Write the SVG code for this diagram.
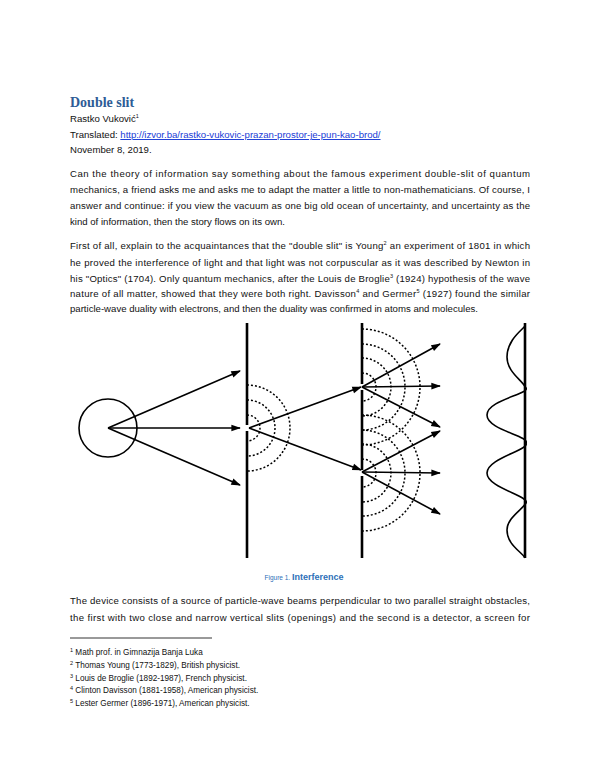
<svg xmlns="http://www.w3.org/2000/svg" width="600" height="776" viewBox="0 0 600 776">
<style>
.b{font-family:"Liberation Sans",Carlito,sans-serif;font-size:9.6px;fill:#111}
.f{font-family:"Liberation Sans",sans-serif;font-size:8.2px;fill:#111}
.s{font-size:5.5px}
.ln{stroke:#000;stroke-width:1.6;fill:none}
.wall{stroke:#000;stroke-width:2.6}
.dot{stroke:#000;stroke-width:1.5;fill:none;stroke-dasharray:2 2}
</style>
<defs><marker id="ah" viewBox="0 0 10 10" refX="9" refY="5" markerWidth="6.5" markerHeight="6" orient="auto" markerUnits="strokeWidth"><path d="M0,1.5 L10,5 L0,8.5 z" fill="#000"/></marker></defs>
<rect width="600" height="776" fill="#fff"/>
<text x="70" y="107" font-family="Liberation Serif,serif" font-weight="bold" font-size="14" fill="#2e5c96">Double slit</text>
<text class="b" x="70" y="122">Rastko Vuković<tspan class="s" dy="-4">1</tspan></text>
<text class="b" x="70" y="138">Translated: <tspan fill="#1a3cd6" text-decoration="underline">http://izvor.ba/rastko-vukovic-prazan-prostor-je-pun-kao-brod/</tspan></text>
<text class="b" x="70" y="153">November 8, 2019.</text>
<text class="b" x="70" y="177" textLength="460" lengthAdjust="spacing">Can the theory of information say something about the famous experiment double-slit of quantum</text>
<text class="b" x="70" y="193" textLength="460" lengthAdjust="spacing">mechanics, a friend asks me and asks me to adapt the matter a little to non-mathematicians. Of course, I</text>
<text class="b" x="70" y="209" textLength="460" lengthAdjust="spacing">answer and continue: if you view the vacuum as one big old ocean of uncertainty, and uncertainty as the</text>
<text class="b" x="70" y="225">kind of information, then the story flows on its own.</text>
<text class="b" x="70" y="249" textLength="460" lengthAdjust="spacing">First of all, explain to the acquaintances that the "double slit" is Young<tspan class="s" dy="-4">2</tspan><tspan dy="4"> an experiment of 1801 in which</tspan></text>
<text class="b" x="70" y="266" textLength="460" lengthAdjust="spacing">he proved the interference of light and that light was not corpuscular as it was described by Newton in</text>
<text class="b" x="70" y="282" textLength="460" lengthAdjust="spacing">his "Optics" (1704). Only quantum mechanics, after the Louis de Broglie<tspan class="s" dy="-4">3</tspan><tspan dy="4"> (1924) hypothesis of the wave</tspan></text>
<text class="b" x="70" y="297" textLength="460" lengthAdjust="spacing">nature of all matter, showed that they were both right. Davisson<tspan class="s" dy="-4">4</tspan><tspan dy="4"> and Germer</tspan><tspan class="s" dy="-4">5</tspan><tspan dy="4"> (1927) found the similar</tspan></text>
<text class="b" x="70" y="312">particle-wave duality with electrons, and then the duality was confirmed in atoms and molecules.</text>

<g id="figure">
<g id="source"><circle cx="108" cy="428" r="29" class="ln"/></g>
<g id="barrier1"><line x1="247" y1="323" x2="247" y2="425" class="wall"/><line x1="247" y1="431" x2="247" y2="558" class="wall"/>
<path class="dot" d="M247,415 A13,13 0 0 1 247,441 M247,400 A28,28 0 0 1 247,456 M247,385 A43,43 0 0 1 247,471"/></g>
<g id="barrier2"><line x1="362" y1="323" x2="362" y2="384" class="wall"/><line x1="362" y1="390" x2="362" y2="470" class="wall"/><line x1="362" y1="476" x2="362" y2="558" class="wall"/>
<path class="dot" d="M362,373 A14,14 0 0 1 362,401 M362,358 A29,29 0 0 1 362,416 M362,344 A43,43 0 0 1 362,430 M362,329 A58,58 0 0 1 362,445"/>
<path class="dot" d="M362,459 A14,14 0 0 1 362,487 M362,444 A29,29 0 0 1 362,502 M362,430 A43,43 0 0 1 362,516 M362,415 A58,58 0 0 1 362,531"/></g>
<g id="screen"><line x1="525" y1="323" x2="525" y2="558" class="wall"/>
<path class="ln" d="M525,326 C522,330 507,340 507,357 C507,372 522,380 526,388 C530,394 487,400 487,415 C487,430 530,436 526,443 C530,450 487,458 487,473 C487,488 530,496 526,503 C522,510 507,518 507,530 C507,545 522,552 525,558"/></g>
<g id="connectors">
<line class="ln" x1="108" y1="428" x2="240" y2="371" marker-end="url(#ah)"/>
<line class="ln" x1="108" y1="428" x2="240" y2="428" marker-end="url(#ah)"/>
<line class="ln" x1="108" y1="428" x2="240" y2="485" marker-end="url(#ah)"/>
<line class="ln" x1="249" y1="428" x2="361" y2="387" marker-end="url(#ah)"/>
<line class="ln" x1="249" y1="428" x2="361" y2="470" marker-end="url(#ah)"/>
<line class="ln" x1="362" y1="387" x2="440" y2="344" marker-end="url(#ah)"/>
<line class="ln" x1="362" y1="387" x2="440" y2="386" marker-end="url(#ah)"/>
<line class="ln" x1="362" y1="387" x2="440" y2="427" marker-end="url(#ah)"/>
<line class="ln" x1="362" y1="472" x2="440" y2="431" marker-end="url(#ah)"/>
<line class="ln" x1="362" y1="472" x2="440" y2="473" marker-end="url(#ah)"/>
<line class="ln" x1="362" y1="472" x2="440" y2="514" marker-end="url(#ah)"/>
</g>
</g>
<text x="304" y="580" text-anchor="middle" font-family="Liberation Sans,sans-serif" fill="#2e6fb8"><tspan font-size="6.5">Figure 1. </tspan><tspan font-size="9" font-weight="bold">Interference</tspan></text>

<text class="b" x="70" y="604" textLength="460" lengthAdjust="spacing">The device consists of a source of particle-wave beams perpendicular to two parallel straight obstacles,</text>
<text class="b" x="70" y="621" textLength="460" lengthAdjust="spacing">the first with two close and narrow vertical slits (openings) and the second is a detector, a screen for</text>
<line x1="70" y1="638" x2="212" y2="638" stroke="#000" stroke-width="0.8"/>
<text class="f" x="70" y="655"><tspan class="s" dy="-3">1</tspan><tspan dy="3"> Math prof. in Gimnazija Banja Luka</tspan></text>
<text class="f" x="70" y="668"><tspan class="s" dy="-3">2</tspan><tspan dy="3"> Thomas Young (1773-1829), British physicist.</tspan></text>
<text class="f" x="70" y="681"><tspan class="s" dy="-3">3</tspan><tspan dy="3"> Louis de Broglie (1892-1987), French physicist.</tspan></text>
<text class="f" x="70" y="693"><tspan class="s" dy="-3">4</tspan><tspan dy="3"> Clinton Davisson (1881-1958), American physicist.</tspan></text>
<text class="f" x="70" y="706"><tspan class="s" dy="-3">5</tspan><tspan dy="3"> Lester Germer (1896-1971), American physicist.</tspan></text>
</svg>
